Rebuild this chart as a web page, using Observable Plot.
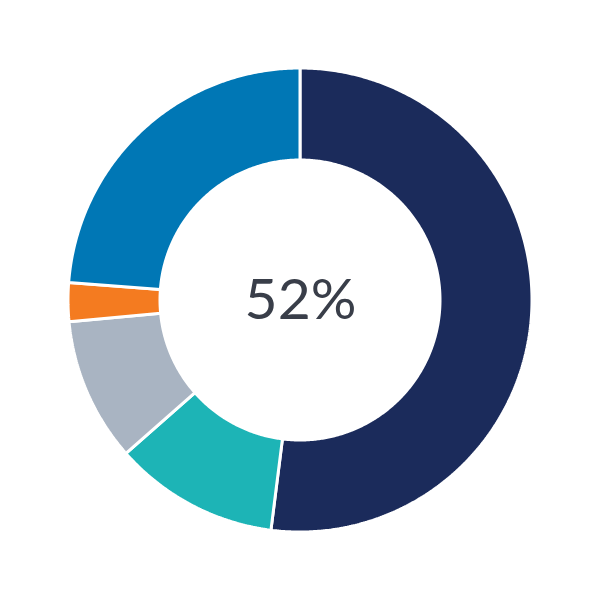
<!DOCTYPE html>
<html>
<head>
<meta charset="utf-8">
<script src="https://cdn.jsdelivr.net/npm/d3@7"></script>
<script src="https://cdn.jsdelivr.net/npm/@observablehq/plot@0.6"></script>
<style>
  html, body { margin: 0; padding: 0; background: #fff; }
  #chart { width: 600px; height: 600px; }
</style>
</head>
<body>
<div id="chart"></div>
<script>
const categories = ["A", "B", "C", "D", "E"];
const values = [52, 11.5, 10, 2.7, 23.8];
const colors = ["#1b2b5b", "#1db4b6", "#a9b4c2", "#f47b20", "#0077b5"];
const centerLabel = "52%";

const R_OUT = 232, R_IN = 140;
const total = d3.sum(values);

// Build dense ring-sector boundary points for each slice
const rows = [];
let acc = 0;
categories.forEach((c, i) => {
  const a0 = acc / total * 2 * Math.PI;
  acc += values[i];
  const a1 = acc / total * 2 * Math.PI;
  const n = Math.max(2, Math.ceil((a1 - a0) / (Math.PI / 360)));
  for (let k = 0; k <= n; k++) {
    const t = a0 + (a1 - a0) * k / n;
    rows.push({
      cat: c,
      xo: R_OUT * Math.sin(t), yo: R_OUT * Math.cos(t),
      xi: R_IN * Math.sin(t), yi: R_IN * Math.cos(t)
    });
  }
});

const chart = Plot.plot({
  width: 600,
  height: 600,
  margin: 0,
  x: {domain: [-300, 300], range: [0, 600], axis: null},
  y: {domain: [-300, 300], range: [600, 0], axis: null},
  color: {domain: categories, range: colors},
  style: {background: "#fff"},
  marks: [
    Plot.area(rows, {
      x1: "xo", y1: "yo", x2: "xi", y2: "yi",
      z: "cat", fill: "cat",
      stroke: "#fff", strokeWidth: 3, strokeLinejoin: "miter"
    }),
    Plot.text([centerLabel], {
      x: () => 0, y: () => 0, text: d => d,
      fontSize: 57, fontFamily: "Lato", fontWeight: 400,
      fill: "#393e49", dy: 0
    })
  ]
});
document.getElementById("chart").appendChild(chart);
</script>
</body>
</html>
